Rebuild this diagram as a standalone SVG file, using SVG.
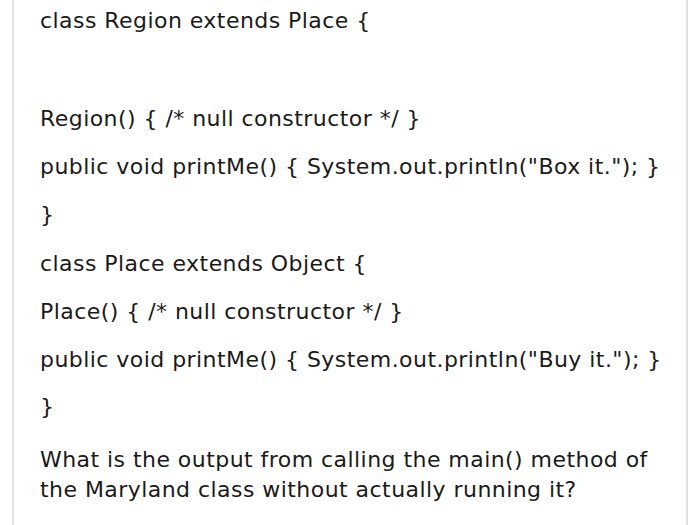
<svg xmlns="http://www.w3.org/2000/svg" width="700" height="525" viewBox="0 0 700 525">
<style>text{font-family:"DejaVu Sans",Verdana,sans-serif;font-size:22px;letter-spacing:0.45px;fill:#1a1a1a}</style>
<rect width="700" height="525" fill="#fff"/>
<line x1="13" y1="0" x2="13" y2="525" stroke="#e2e2e2" stroke-width="2"/>
<line x1="687" y1="0" x2="687" y2="525" stroke="#e2e2e2" stroke-width="2"/>
<text x="40" y="28">class Region extends Place {</text>
<text x="40" y="126">Region() { /* null constructor */ }</text>
<text x="40" y="174">public void printMe() { System.out.println("Box it."); }</text>
<text x="40" y="222">}</text>
<text x="40" y="271">class Place extends Object {</text>
<text x="40" y="319">Place() { /* null constructor */ }</text>
<text x="40" y="367">public void printMe() { System.out.println("Buy it."); }</text>
<text x="40" y="414">}</text>
<text x="40" y="467">What is the output from calling the main() method of</text>
<text x="40" y="497">the Maryland class without actually running it?</text>
</svg>
